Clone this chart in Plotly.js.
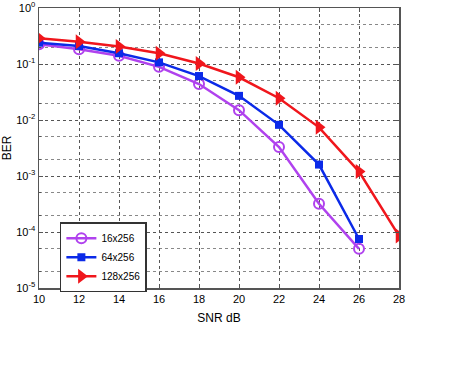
<!DOCTYPE html>
<html><head><meta charset="utf-8">
<script src="https://cdn.plot.ly/plotly-3.0.1.min.js"></script>
<style>html,body{margin:0;padding:0;background:#fff}#c{width:474px;height:365px}</style>
</head><body><div id="c"></div>
<script>
const snr = [10, 12, 14, 16, 18, 20, 22, 24, 26, 28];
const ber16 = [0.226, 0.184, 0.14, 0.089, 0.044, 0.015, 0.0033, 0.00032, 0.00005];
const ber64 = [0.24, 0.21, 0.156, 0.107, 0.061, 0.027, 0.0082, 0.0016, 0.000075];
const ber128 = [0.29, 0.25, 0.205, 0.156, 0.102, 0.058, 0.0245, 0.0074, 0.0012, 0.000085];
const yTickVals = [1, 0.1, 0.01, 0.001, 0.0001, 0.00001];
const yTickText = ['10<sup>0</sup>', '10<sup>-1</sup>', '10<sup>-2</sup>', '10<sup>-3</sup>', '10<sup>-4</sup>', '10<sup>-5</sup>'];
const xTickVals = [10, 12, 14, 16, 18, 20, 22, 24, 26, 28];
const names = ['16x256', '64x256', '128x256'];

const traces = [
  {x: snr.slice(0, ber16.length), y: ber16, name: names[0], mode: 'lines+markers',
   line: {color: '#b042ee', width: 2.5}, marker: {symbol: 'circle-open', size: 10, color: '#b042ee', line: {width: 2}}},
  {x: snr.slice(0, ber64.length), y: ber64, name: names[1], mode: 'lines+markers',
   line: {color: '#0b2ae8', width: 2.5}, marker: {symbol: 'square', size: 8, color: '#0b2ae8'}},
  {x: snr.slice(0, ber128.length), y: ber128, name: names[2], mode: 'lines+markers',
   line: {color: '#f0161c', width: 2.5}, marker: {symbol: 'triangle-right', size: 13, color: '#f0161c'}}
];

const layout = {
  width: 474, height: 365,
  margin: {l: 39, r: 75, t: 8, b: 77},
  paper_bgcolor: '#fff', plot_bgcolor: '#fff',
  font: {family: 'Arial, Liberation Sans, sans-serif', size: 11, color: '#000'},
  showlegend: true,
  legend: {x: 0.058, y: 0.235, xanchor: 'left', yanchor: 'top', bordercolor: '#333', borderwidth: 1.5,
           bgcolor: '#fff', font: {size: 10}, tracegroupgap: 0, itemwidth: 30},
  xaxis: {range: [10, 28], tickvals: xTickVals, showline: true, linecolor: '#555', linewidth: 1.5, mirror: 'ticks',
          ticks: 'inside', ticklen: 4, tickcolor: '#555', showgrid: true, gridcolor: '#555', griddash: 'dot', gridwidth: 1,
          zeroline: false, tickfont: {size: 11}, title: {text: 'SNR dB', font: {size: 12}, standoff: 10}},
  yaxis: {type: 'log', range: [-5, 0.0005], tickvals: yTickVals, ticktext: yTickText, showline: true, linecolor: '#555',
          linewidth: 1.5, mirror: 'ticks', ticks: 'inside', ticklen: 4, tickcolor: '#555', ticklabeloverflow: 'allow',
          showgrid: true, gridcolor: '#555', griddash: 'dot', gridwidth: 1, zeroline: false, tickfont: {size: 11},
          minor: {dtick: 'D2', showgrid: true, gridcolor: '#888', griddash: 'dot', ticks: 'inside', ticklen: 2, tickcolor: '#555'},
          title: {text: 'BER', font: {size: 12}, standoff: 6}}
};
Plotly.newPlot('c', traces, layout, {displayModeBar: false, staticPlot: true});
</script></body></html>
